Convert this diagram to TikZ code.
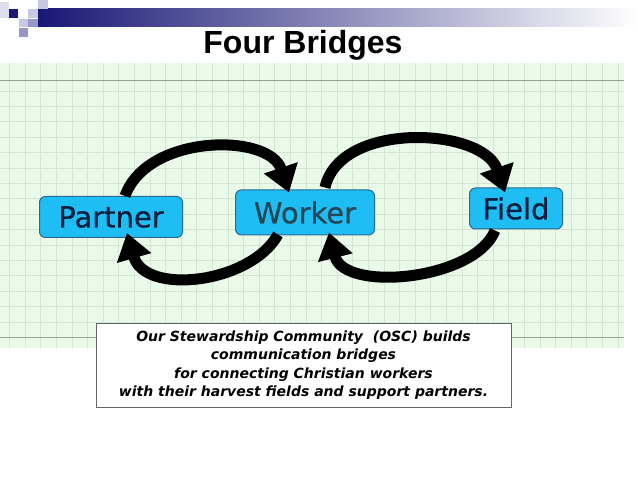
\documentclass[tikz,border=0pt]{standalone}
\usepackage{fontspec}
\setmainfont{DejaVu Sans}
\newfontfamily\titlefont{Liberation Sans}
\newfontfamily\labelfont{DejaVu Sans}[FakeBold=0.8]
\usepackage{tikz}
\usetikzlibrary{
  arrows.meta,
  positioning
}
\definecolor{gridbg}{RGB}{233,250,232}
\definecolor{gridline}{RGB}{210,230,210}
\definecolor{ruleline}{RGB}{150,162,150}
\definecolor{bridgefill}{RGB}{30,190,245}
\definecolor{bridgeedge}{RGB}{40,105,150}
\definecolor{labelnavy}{RGB}{12,30,62}
\definecolor{labelslate}{RGB}{36,70,86}
\definecolor{barnavy}{RGB}{24,24,118}
\definecolor{lavender}{RGB}{200,200,228}
\definecolor{midlavender}{RGB}{150,150,205}

\begin{document}
\begin{tikzpicture}[
  x=1pt,y=-1pt,
  node distance=52pt,
  bridge/.style={rectangle,rounded corners=6pt,draw=bridgeedge,line width=1pt,fill=bridgefill,
    minimum height=41pt,inner sep=0pt,font=\labelfont\fontsize{29}{34}\selectfont,text=labelnavy},
  arr/.style={-{Triangle[length=26pt,width=34pt]},line width=11pt},
  note/.style={rectangle,draw=black!60,line width=0.8pt,fill=white,minimum width=415pt,minimum height=84pt,
    align=center,font=\fontsize{14}{18.5}\selectfont\bfseries\itshape}
]
\useasboundingbox (0,0) rectangle (638,478);
% header ornament
\shade[left color=barnavy,right color=white] (38,9) rectangle (638,27);
\fill[lavender!60] (0,2) rectangle (9,18);
\fill[barnavy] (9,9) rectangle (18,18);
\fill[lavender] (28,9) rectangle (38,18);
\fill[lavender] (38,0) rectangle (48,9);
\fill[lavender] (19,19) rectangle (28,27);
\fill[midlavender] (28,19) rectangle (38,27);
\fill[midlavender] (19,28) rectangle (28,37);
% grid paper
\fill[gridbg] (0,63) rectangle (624,348);
\foreach \gx in {0,...,39}
  \draw[gridline,line width=0.8pt] (9.5+15.6*\gx,63) -- (9.5+15.6*\gx,348);
\foreach \gy in {0,...,16}
  \draw[gridline,line width=0.8pt] (0,91+15.4*\gy) -- (624,91+15.4*\gy);
\draw[ruleline,line width=0.8pt] (0,80.5) -- (624,80.5);
\draw[ruleline,line width=0.8pt] (0,337.5) -- (624,337.5);
% title
\node[font=\titlefont\bfseries\fontsize{32}{36}\selectfont] (title) at (303,45) {Four Bridges};
% the three partners of the bridges
\node[bridge,minimum width=143pt] (partner) at (111,217) {Partner};
\node[bridge,minimum width=139pt,minimum height=45pt,text=labelslate,right=52pt of partner,yshift=4.5pt] (worker) {Worker};
\node[bridge,minimum width=93pt,right=94pt of worker,yshift=4pt] (field) {Field};
\draw[arr] ([xshift=14pt]partner.north) .. controls +(22,-62) and +(-20,-60) .. ([xshift=-16pt,yshift=-3pt]worker.north);
\draw[arr] ([xshift=-27pt,yshift=1pt]worker.south) .. controls +(-27,49) and +(18,63) .. ([xshift=16pt,yshift=5pt]partner.south);
\draw[arr] ([xshift=20pt,yshift=2pt]worker.north) .. controls +(15,-67) and +(-22,-65) .. ([xshift=-11pt,yshift=-5pt]field.north);
\draw[arr] ([xshift=-21pt,yshift=-1pt]field.south) .. controls +(-20,50) and +(15,60) .. ([xshift=24pt,yshift=3pt]worker.south);
% description
\node[note] (osc) at (303.5,365) {Our Stewardship Community~ (OSC) builds\\communication bridges\\for connecting Christian workers\\with their harvest fields and support partners.};
\end{tikzpicture}
\end{document}
